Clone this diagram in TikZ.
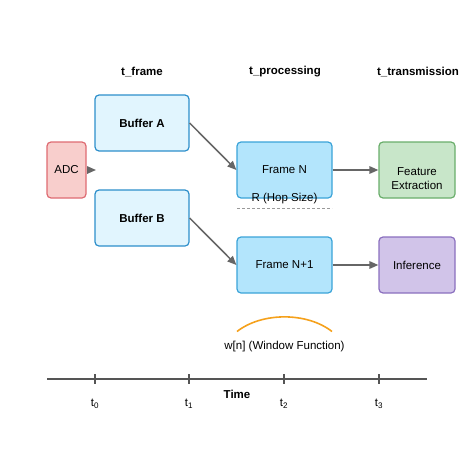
\documentclass[tikz,border=0pt]{standalone}
\usepackage{fontspec}
\setmainfont{Liberation Sans}
\usetikzlibrary{arrows.meta}
\definecolor{bufFill}{HTML}{E1F5FE}
\definecolor{bufLine}{HTML}{2D8FCB}
\definecolor{frmFill}{HTML}{B3E5FC}
\definecolor{frmLine}{HTML}{3AA3D8}
\definecolor{adcFill}{HTML}{F8CECC}
\definecolor{adcLine}{HTML}{DE6B72}
\definecolor{grnFill}{HTML}{C8E6C9}
\definecolor{grnLine}{HTML}{6AAE6B}
\definecolor{purFill}{HTML}{D1C4E9}
\definecolor{purLine}{HTML}{8A6FBE}
\definecolor{arrGray}{HTML}{666666}
\definecolor{axGray}{HTML}{555555}
\definecolor{winOrange}{HTML}{F5A11C}
\tikzset{
  box/.style={rounded corners=4pt, line width=1.2pt, inner sep=0pt, align=center, font=\fontsize{11.5}{14.5}\selectfont},
  bufbox/.style={box, fill=bufFill, draw=bufLine, minimum width=94pt, minimum height=56pt, font=\fontsize{11.5}{14.5}\selectfont\bfseries},
  frmbox/.style={box, fill=frmFill, draw=frmLine, minimum width=95pt, minimum height=56pt},
  adcbox/.style={box, fill=adcFill, draw=adcLine, minimum width=39pt, minimum height=56pt},
  grnbox/.style={box, fill=grnFill, draw=grnLine, minimum width=76pt, minimum height=56pt},
  purbox/.style={box, fill=purFill, draw=purLine, minimum width=76pt, minimum height=56pt},
  title/.style={font=\fontsize{11.5}{14}\selectfont\bfseries, inner sep=0pt},
  lbl/.style={font=\fontsize{11.5}{14}\selectfont, inner sep=0pt},
  conn/.style={draw=arrGray, line width=1.5pt, -{Triangle[length=9pt,width=7.5pt]}},
}
\begin{document}
\begin{tikzpicture}[x=1pt,y=-1pt]
\useasboundingbox (0,0) rectangle (474,474);
% titles
\node[title] (tf) at (142,72) {t\_frame};
\node[title] (tp) at (285,72) {t\_processing};
\node[title] (tt) at (418,72) {t\_transmission};
% boxes
\node[adcbox] (adc) at (66.5,170) {ADC};
\node[bufbox] (bufA) at (142,123) {Buffer A};
\node[bufbox] (bufB) at (142,218) {Buffer B};
\node[frmbox] (frN) at (284.5,170) {Frame N};
\node[frmbox] (frN1) at (284.5,265) {Frame N+1};
\node[grnbox] (feat) at (417,170) {};
\node[lbl, align=center, font=\fontsize{11.5}{14.5}\selectfont] (featTxt) at (417,178.5) {Feature\\Extraction};
\node[purbox] (inf) at (417,265) {Inference};
% connectors
\coordinate (adcEnd) at (96,170);
\draw[conn] (adc.east) -- (adcEnd);
\draw[conn] (bufA.east) -- (frN.west);
\draw[conn] (bufB.east) -- (frN1.west);
\draw[conn] (frN.east) -- (feat.west);
\draw[conn] (frN1.east) -- (inf.west);
% hop size
\coordinate (hopL) at (237,208);
\coordinate (hopR) at (332,208);
\draw[draw=gray!80, line width=1pt, dash pattern=on 3pt off 2pt] (hopL) -- (hopR);
\node[lbl] (hop) at (284.5,199) {R (Hop Size)};
% window function
\coordinate (wL) at (237,331.5);
\coordinate (wR) at (332,331.5);
\draw[winOrange, line width=1.6pt] (wL) .. controls (262,312) and (307,312) .. (wR);
\node[lbl] (win) at (284.5,347) {w[n] (Window Function)};
% time axis
\coordinate (axL) at (47,379);
\coordinate (axR) at (427,379);
\draw[axGray, line width=1.3pt] (axL) -- (axR);
\foreach \x/\n in {95/0,189/1,284/2,379/3}{
  \draw[axGray, line width=1.2pt] (\x,374) -- (\x,384);
  \node[lbl] (tick\n) at (\x,404) {t\textsubscript{\n}};
}
\node[title] (time) at (237,394) {Time};
\end{tikzpicture}
\end{document}
